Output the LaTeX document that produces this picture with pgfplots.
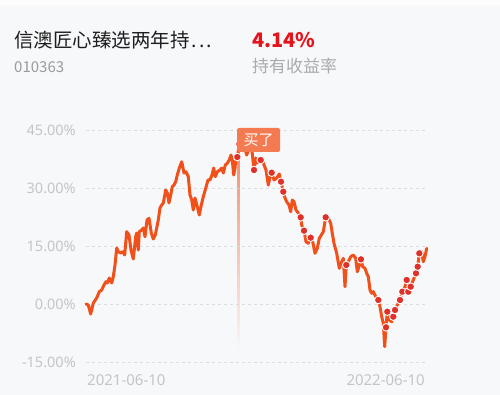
\documentclass[border=0pt]{standalone}
\usepackage{fontspec}
\setmainfont{Noto Sans}
\newfontfamily\cjk{Noto Sans CJK SC}
\usepackage{pgfplots}
\pgfplotsset{compat=1.18}
\definecolor{bg}{HTML}{F7F8FA}
\definecolor{lineor}{HTML}{F2501A}
\definecolor{dotred}{HTML}{E0302A}
\definecolor{gridc}{HTML}{DCDDE0}
\definecolor{tickc}{HTML}{C4C5C9}
\definecolor{titlec}{HTML}{1E1E1E}
\definecolor{redc}{HTML}{E5141C}
\definecolor{greyc}{HTML}{9A9A9E}
\definecolor{greyd}{HTML}{ABABAF}
\definecolor{buyc}{HTML}{F47A52}
\pgfplotstableread{
x v
86 0.0
88.3 -0.26
90.7 -2.59
93.3 0.26
96.7 1.55
99.3 3.18
101.7 3.62
104 4.91
106 5.77
107.3 5.43
109.3 6.72
111.7 5.43
113.3 7.06
115 10.09
116.7 14.48
118.3 13.52
120.7 13.19
122.7 13.52
124.7 12.67
126.7 18.70
129 17.84
131 13.96
133.3 11.64
135.7 17.40
136.7 18.36
138.3 13.96
139.3 18.70
141.7 19.14
143.3 19.65
145 17.40
147 21.72
149 22.16
151.3 18.36
153.3 16.81
155.3 17.84
156.7 19.65
158.3 21.72
160 24.83
161.7 25.60
163.3 26.12
165.7 29.48
167.3 28.70
169 26.12
170.7 28.19
172.3 30.33
174 30.77
175.7 31.63
177.3 33.36
179.3 35.17
181.7 36.80
184 33.88
186 34.21
188.3 32.92
190 28.19
191.7 26.89
193.3 24.31
195 27.41
197.3 25.16
199.3 23.02
201.3 25.60
203.3 27.75
205.7 29.92
208 32.07
210 32.07
212 33.36
213.7 35.17
215.3 32.92
217.3 34.21
220 34.65
221.7 35.17
223.3 33.88
225.3 35.95
227.3 36.39
229.3 37.24
231 38.53
232.3 37.24
233.7 33.36
235 35.17
236 38.09
237.3 38.01
239.3 41.37
241.7 39.82
244 41.12
246.7 38.53
249.3 40.34
251.7 40.34
254 34.65
255.7 37.76
257.3 36.46
260.7 37.24
263.3 36.46
266 34.65
268.3 30.77
270 32.92
271.7 33.95
274 32.07
276.7 32.58
279.3 33.62
281 31.63
283.3 29.04
285 27.41
286.7 26.45
289 25.60
290.7 23.87
292.3 26.89
294 26.45
296 24.31
298.3 23.53
300.7 22.42
301.7 20.43
304 18.96
306 16.11
308.3 15.70
310.7 17.15
312.7 16.11
315 13.11
317.3 14.40
319.3 16.99
321.3 17.84
323.3 18.70
325.7 22.42
328.3 22.16
330.7 20.87
332.3 18.28
334 15.70
336.7 13.11
339.3 9.23
341.7 10.94
343.3 11.82
345 4.47
346.3 10.09
348.3 10.94
350.7 12.23
353.3 12.67
355.7 11.82
357.3 8.35
359 9.65
361 11.56
362.7 9.65
365 9.23
366.7 7.94
368.3 7.06
370 3.62
371.7 2.77
373.3 3.18
375.7 1.89
378.3 1.03
380 -0.70
381.7 -3.28
383.3 -4.99
384.7 -11.04
386 -6.03
387.3 -1.99
389.3 -4.14
391.7 -4.58
393.3 -3.28
395 -1.55
397.3 -0.26
400 1.03
402.3 3.18
405 4.47
406.7 6.21
408.3 3.18
410.7 4.47
413.3 6.21
416 7.94
417.7 9.65
419.3 13.11
421.7 13.52
423.3 10.94
425 12.23
426.7 14.40
}\linedata
\pgfplotstableread{
x v
237.3 38.01
239.3 41.37
254 34.65
260.7 37.24
271.7 33.95
281 31.63
283.3 29.04
300.7 22.42
304 18.96
310.7 17.15
325.7 22.42
346.3 10.09
361 11.56
378.3 1.03
386 -6.03
387.3 -1.99
393.3 -3.28
395 -1.55
400 1.03
402.3 3.18
406.7 6.21
408.3 3.18
410.7 4.47
416 7.94
417.7 9.65
419.3 13.11
}\dotdata
\begin{document}
\begin{tikzpicture}[x=1pt,y=1pt]
\fill[bg] (0,0) rectangle (500,395);
\fill[white!60!bg] (0,390) rectangle (500,395);
\node[anchor=base west, inner sep=0, text=titlec, font=\cjk\fontsize{19.5}{20}\selectfont] at (14,347) {信澳匠心臻选两年持\hspace{2pt}.\hspace{2pt}.\hspace{2pt}.};
\node[anchor=base west, inner sep=0, text=redc, font=\cjk\bfseries\fontsize{20}{20}\selectfont] at (252,347.3) {4.14\%};
\node[anchor=base west, inner sep=0, text=greyc, font=\cjk\fontsize{15}{15}\selectfont] at (14,322.3) {010363};
\node[anchor=base west, inner sep=0, text=greyd, font=\cjk\fontsize{17}{17}\selectfont] at (252,322.5) {持有收益率};
\shade[top color=buyc!85, bottom color=bg] (237,45) rectangle (239.5,243);
\begin{axis}[at={(86pt,33pt)}, anchor=south west, width=341pt, height=232pt, scale only axis,
  xmin=86, xmax=427, ymin=-15, ymax=45,
  axis line style={draw=none}, major tick length=0pt,
  xtick=\empty, ytick={-15,0,15,30,45},
  /pgf/number format/assume math mode=true,
  yticklabel={\pgfmathprintnumber[fixed,fixed zerofill,precision=2]{\tick}\%},
  yticklabel style={anchor=east, inner sep=0pt, xshift=-10pt, text=tickc, font=\fontsize{14.5}{14.5}\selectfont},
  ymajorgrids, grid style={gridc, dash pattern=on 3pt off 3pt, line width=0.8pt},
  clip=false]
\addplot[lineor, line width=3pt, line join=round, line cap=round] table[x=x,y=v] {\linedata};
\addplot[only marks, mark=*, mark size=3.8pt, mark options={fill=dotred, draw=white, line width=0.9pt}] table[x=x,y=v] {\dotdata};
\end{axis}
\fill[buyc, rounded corners=2pt] (237,243) rectangle (280,267);
\node[text=white, inner sep=0, font=\cjk\fontsize{15}{15}\selectfont] at (258.5,255) {买了};
\node[anchor=base west, inner sep=0, text=tickc, font=\fontsize{15}{15}\selectfont] at (87,9) {2021-06-10};
\node[anchor=base east, inner sep=0, text=tickc, font=\fontsize{15}{15}\selectfont] at (425,9) {2022-06-10};
\end{tikzpicture}
\end{document}
